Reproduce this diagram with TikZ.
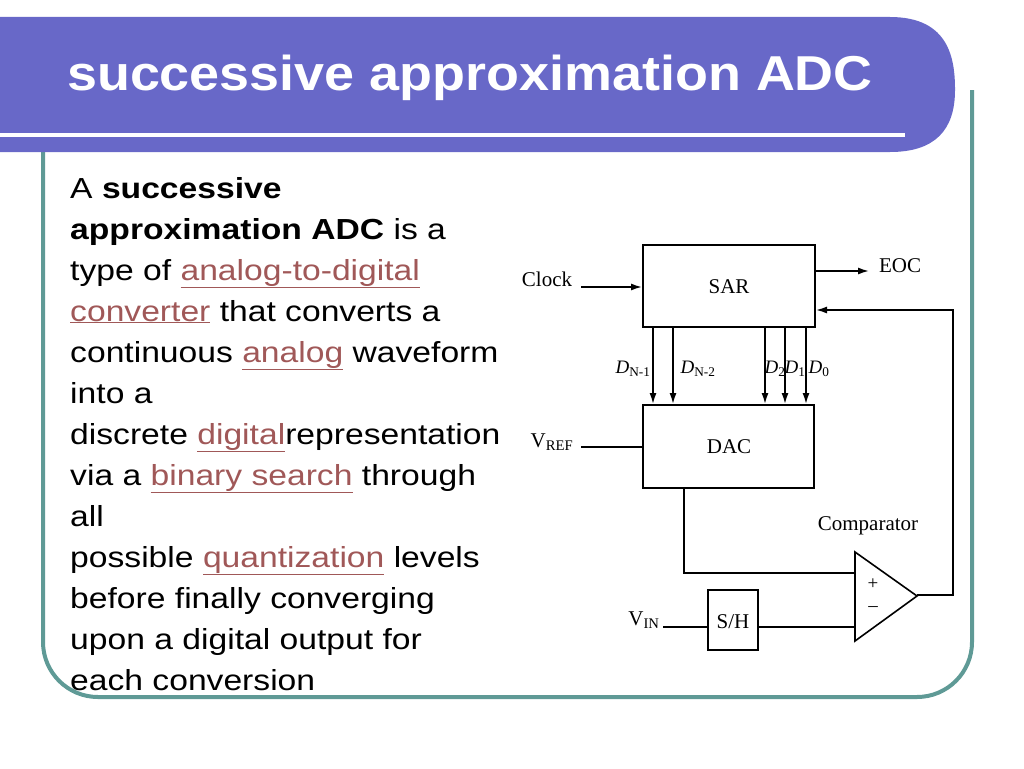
\documentclass[tikz,border=0pt]{standalone}
\usepackage{fontspec}
\setmainfont{Liberation Sans}
\newfontfamily\dfont{Liberation Serif}
\usetikzlibrary{arrows.meta}
\definecolor{banner}{HTML}{6868C8}
\definecolor{frame}{HTML}{5F9A96}
\definecolor{link}{HTML}{A05858}
\newcommand{\lnk}[1]{\textcolor{link}{\underline{#1}}}
\newcommand{\dsub}[2]{\textit{#1}\textsubscript{#2}}
\tikzset{
    txt/.style={anchor=base west, inner sep=0pt, xscale=1.16, font=\fontsize{29}{32}\selectfont},
    dlab/.style={inner sep=0pt, font=\dfont\fontsize{21}{23}\selectfont},
    dsm/.style={dlab, font=\dfont\fontsize{19}{21}\selectfont},
    wire/.style={line width=1.6pt},
    blk/.style={line width=2.4pt},
    sig/.style={wire, -{Latex[length=11pt,width=7pt]}},
}
\begin{document}
\begin{tikzpicture}[x=1pt,y=-1pt]
    \useasboundingbox (0,0) rectangle (1024,768);

    % Frame
    \draw[frame, line width=4pt, rounded corners=55pt]
        (43,150) -- (43,697) -- (972,697) -- (972,90);
    % Banner
    \fill[banner] (0,17) -- (890,17) .. controls (950,17) and (955,60) .. (955,90)
        .. controls (955,130) and (935,152) .. (890,152) -- (0,152) -- cycle;
    \draw[white, line width=4pt] (0,135) -- (905,135);
    \node[white, xscale=1.1, font=\bfseries\fontsize{49}{52}\selectfont] (title) at (470,78) {successive approximation ADC};

    % Text column
    \node[txt] (l1) at (70,198) {A \textbf{successive}};
    \node[txt] (l2) at (70,239) {\textbf{approximation ADC} is a};
    \node[txt] (l3) at (70,280) {type of \lnk{analog-to-digital}};
    \node[txt] (l4) at (70,321) {\lnk{converter} that converts a};
    \node[txt] (l5) at (70,362) {continuous \lnk{analog} waveform};
    \node[txt] (l6) at (70,403) {into a};
    \node[txt] (l7) at (70,444) {discrete \lnk{digital}representation};
    \node[txt] (l8) at (70,485) {via a \lnk{binary search} through};
    \node[txt] (l9) at (70,526) {all};
    \node[txt] (l10) at (70,567) {possible \lnk{quantization} levels};
    \node[txt] (l11) at (70,608) {before finally converging};
    \node[txt] (l12) at (70,649) {upon a digital output for};
    \node[txt] (l13) at (70,690) {each conversion};

    % Blocks
    \draw[blk] (643,245) rectangle (815,327);
    \node[dlab] (sar) at (729,287) {SAR};
    \draw[blk] (643,405) rectangle (814,488);
    \node[dlab] (dac) at (729,447) {DAC};
    \draw[blk] (708,590) rectangle (758,650);
    \node[dlab] (sh) at (733,622) {S/H};
    \draw[wire] (855,552) -- (917,596) -- (855,641) -- cycle;
    \node[dsm] at (873,584) {+};
    \node[dsm] at (873,609) {\textendash};
    \node[dlab] (cmp) at (868,526) {Comparator};

    % Signals
    \node[dlab] (clk) at (547,279) {Clock};
    \draw[sig] (581,287) -- (642,287);
    \draw[sig] (815,271) -- (869,271);
    \node[dlab] (eoc) at (900,266) {EOC};
    \draw[sig] (917,595) -- (953,595) -- (953,310) -- (816,310);
    \foreach \x in {653,673,765,785,806}
        \draw[sig] (\x,327) -- (\x,404);
    \node[dsm] at (633,369) {\dsub{D}{N-1}};
    \node[dsm] at (698,369) {\dsub{D}{N-2}};
    \node[dsm] at (775,369) {\dsub{D}{2}};
    \node[dsm] at (795,369) {\dsub{D}{1}};
    \node[dsm] at (819,369) {\dsub{D}{0}};
    \node[dlab] (vref) at (552,442) {V\textsubscript{REF}};
    \draw[wire] (581,447) -- (643,447);
    \draw[wire] (684,488) -- (684,573) -- (855,573);
    \node[dlab] (vin) at (644,620) {V\textsubscript{IN}};
    \draw[wire] (663,627) -- (708,627);
    \draw[wire] (758,627) -- (855,627);
\end{tikzpicture}
\end{document}
